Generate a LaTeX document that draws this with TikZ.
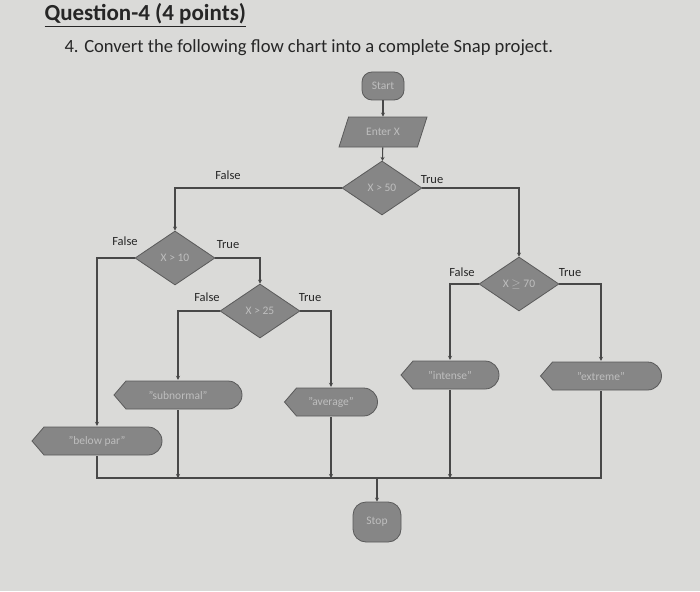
\documentclass[tikz,border=0pt]{standalone}
\usepackage{fontspec}
\setmainfont{Carlito}
\usetikzlibrary{shapes.geometric,arrows.meta}
\definecolor{paper}{RGB}{218,218,216}
\definecolor{shapegray}{RGB}{134,134,134}
\definecolor{shapeline}{RGB}{90,90,90}
\definecolor{shapetext}{RGB}{190,190,190}
\definecolor{wire}{RGB}{72,72,72}
\begin{document}
\begin{tikzpicture}[x=1pt,y=1pt,
  wire/.style={draw=wire,line width=1.1pt},
  arr/.style={wire,-{Stealth[length=4pt,width=4pt]}},
  shapefont/.style={text=shapetext,font=\fontsize{11.5}{13}\selectfont},
  term/.style={rectangle,rounded corners=10pt,fill=shapegray,draw=shapeline,line width=0.8pt,shapefont,minimum width=42pt,minimum height=28pt,inner sep=0pt},
  inbox/.style={trapezium,trapezium left angle=58,trapezium right angle=122,trapezium stretches,fill=shapegray,draw=shapeline,line width=0.8pt,shapefont,minimum width=88pt,minimum height=30pt,inner sep=0pt},
  decide/.style={diamond,fill=shapegray,draw=shapeline,line width=0.8pt,shapefont,minimum width=80pt,minimum height=54pt,inner sep=0pt},
  disp/.style={rectangle,minimum width=#1,minimum height=30pt,inner sep=0pt,shapefont,
    path picture={\path[fill=shapegray,draw=shapeline,line width=0.8pt]
      ([xshift=1pt]path picture bounding box.west)
      -- ([shift={(13pt,-1pt)}]path picture bounding box.north west)
      -- ([shift={(-15pt,-1pt)}]path picture bounding box.north east)
      arc[start angle=90,end angle=-90,radius=14pt]
      -- ([shift={(13pt,1pt)}]path picture bounding box.south west) -- cycle;}},
  lbl/.style={font=\fontsize{12.5}{14}\selectfont,text=black!85,inner sep=1pt}]

\useasboundingbox (0,0) rectangle (700,-591);
\fill[paper] (0,0) rectangle (700,-591);

\node[anchor=base west,font=\bfseries\fontsize{23}{27}\selectfont,text=black!85] (title) at (41,-21) {\underline{Question-4 (4 points)}};
\node[anchor=base west,font=\fontsize{18.6}{22}\selectfont,text=black!85] (task) at (61,-53) {4. Convert the following flow chart into a complete Snap project.};

\node[term] (start) at (383,-86) {Start};
\node[inbox] (enterx) at (383,-132) {Enter X};
\node[decide] (d50) at (382,-188) {X > 50};
\node[decide] (d10) at (175,-258) {X > 10};
\node[decide] (d25) at (260,-311) {X > 25};
\node[decide] (d70) at (519,-284) {X $\geq$ 70};
\node[disp=130pt] (subnormal) at (178,-395) {"subnormal"};
\node[disp=95pt] (average) at (331,-402) {"average"};
\node[disp=132pt] (belowpar) at (97,-441) {"below par"};
\node[disp=100pt] (intense) at (450,-375) {"intense"};
\node[disp=123pt] (extreme) at (601,-376) {"extreme"};
\node[term,minimum width=48pt,minimum height=40pt,rounded corners=13pt] (stop) at (377,-522) {Stop};
\coordinate (join) at (377,-478);

\node[lbl] (f50) at (228,-175) {False};
\node[lbl] (t50) at (432,-180) {True};
\node[lbl] (f10) at (125,-241) {False};
\node[lbl] (t10) at (228,-245) {True};
\node[lbl] (f25) at (207,-297) {False};
\node[lbl] (t25) at (310,-298) {True};
\node[lbl] (f70) at (462,-272) {False};
\node[lbl] (t70) at (570,-273) {True};

\draw[arr] (start) -- (enterx);
\draw[arr] (enterx) -- (d50);
\draw[arr] (d50.west) -| (d10.north);
\draw[arr] (d50.east) -| (d70.north);
\draw[arr] (d10.west) -| (belowpar.north);
\draw[arr] (d10.east) -| (d25.north);
\draw[arr] (d25.west) -| (subnormal.north);
\draw[arr] (d25.east) -| (average.north);
\draw[arr] (d70.west) -| (intense.north);
\draw[arr] (d70.east) -| (extreme.north);

\draw[wire] (belowpar.south) |- (join);
\draw[wire] (extreme.south) |- (join);
\draw[arr] (subnormal.south) -- (subnormal.south |- join);
\draw[arr] (average.south) -- (average.south |- join);
\draw[arr] (intense.south) -- (intense.south |- join);
\draw[arr] (join) -- (stop);
\end{tikzpicture}
\end{document}
